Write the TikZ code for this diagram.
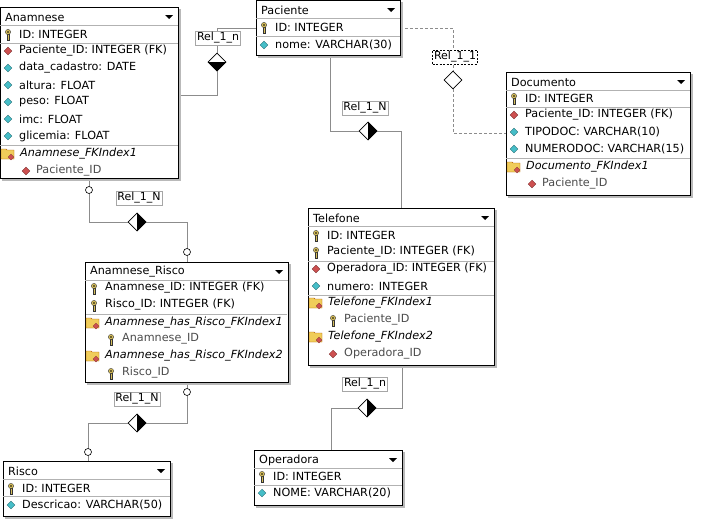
\documentclass[tikz,border=0pt]{standalone}
\usepackage{fontspec}
\setmainfont{DejaVu Sans}
\usetikzlibrary{shapes.geometric}
\definecolor{keyc}{RGB}{214,190,90}
\definecolor{fkc}{RGB}{205,80,80}
\definecolor{atc}{RGB}{70,190,200}
\definecolor{fold}{RGB}{240,205,90}
\definecolor{linec}{RGB}{140,140,140}
\tikzset{
  tbl/.style={draw=black,fill=white,anchor=north west,inner sep=0pt},
  shadow/.style={fill=gray!55},
  txt/.style={anchor=west,inner sep=0pt,font=\fontsize{11.2}{13}\selectfont},
  gtxt/.style={txt,text=gray!60!black},
  itxt/.style={txt,font=\fontsize{11.2}{13}\selectfont\itshape},
  conn/.style={draw=linec,line width=0.8pt},
  dconn/.style={draw=linec,line width=0.8pt,dash pattern=on 3pt off 2pt},
  lab/.style={draw=gray!70,fill=white,inner sep=1.5pt,font=\fontsize{11}{13}\selectfont},
  dlab/.style={draw=black,dash pattern=on 2pt off 1.5pt,fill=white,inner sep=1.5pt,font=\fontsize{11}{13}\selectfont},
  rel/.style={diamond,draw=black,fill=white,minimum width=18pt,minimum height=18pt,inner sep=0pt,line width=0.8pt},
  circ/.style={circle,draw=black,fill=white,minimum size=7pt,inner sep=0pt,line width=0.6pt},
}
\newcommand{\mytable}[7][]{%
  \fill[shadow] (#3+2,#4+2) rectangle (#3+#5+3,#4+#6+3);
  \node[tbl,minimum width=#5pt,minimum height=#6pt,#1] (#2) at (#3,#4) {};
  \node[txt] at (#3+5,#4+10) {#7};
  \fill (#3+#5-13,#4+8) -- (#3+#5-5,#4+8) -- (#3+#5-9,#4+12) -- cycle;
  \draw[gray!60] (#3,#4+18.5) -- (#3+#5,#4+18.5);
}
\newcommand{\mysep}[3]{\draw[gray!60] (#1,#3) -- (#2,#3);}
\newcommand{\ikey}[2]{%
  \fill[keyc,draw=gray!40!black,line width=0.3pt] (#1-1.2,#2-1) rectangle (#1+1.2,#2+5);
  \filldraw[fill=keyc,draw=gray!40!black,line width=0.4pt] (#1,#2-3) circle (2.6);
  \fill[black] (#1,#2-3) circle (0.8);}
\newcommand{\ifk}[2]{\filldraw[fill=fkc,draw=fkc!60!black,line width=0.3pt] (#1-3.8,#2) -- (#1,#2-3.8) -- (#1+3.8,#2) -- (#1,#2+3.8) -- cycle;}
\newcommand{\iat}[2]{\filldraw[fill=atc,draw=atc!60!black,line width=0.3pt] (#1-3.8,#2) -- (#1,#2-3.8) -- (#1+3.8,#2) -- (#1,#2+3.8) -- cycle;}
\newcommand{\ifold}[2]{%
  \filldraw[fill=fold,draw=orange!70!black,line width=0.4pt] (#1-7,#2-5) -- (#1-2,#2-5) -- (#1-1,#2-4) -- (#1+6,#2-4) -- (#1+6,#2+5) -- (#1-7,#2+5) -- cycle;
  \filldraw[fill=fkc,draw=fkc!60!black,line width=0.3pt] (#1+0,#2+3) -- (#1+3,#2) -- (#1+6,#2+3) -- (#1+3,#2+6) -- cycle;}
\begin{document}
\begin{tikzpicture}[x=1pt,y=-1pt]
\useasboundingbox[fill=white] (0,0) rectangle (727,530);

\coordinate (pa1) at (256,28);
\node[rel] (r1) at (217,62) {};
\draw[conn] (pa1) -- (217,28) -- (r1.north);
\draw[conn] (r1.south) -- (217,95) -- (178,95);
\fill (r1.west) -- (r1.east) -- (r1.south) -- cycle;
\node[lab] (l1) at (218,38) {Rel\_1\_n};

\node[rel] (r2) at (368,131) {};
\draw[conn] (330,55) -- (330,131) -- (r2.west);
\draw[conn] (r2.east) -- (401,131) -- (401,208);
\fill (r2.north) -- (r2.east) -- (r2.south) -- cycle;
\node[lab] (l2) at (365,108) {Rel\_1\_N};

\node[rel] (r3) at (453,80) {};
\draw[dconn] (400,28) -- (453,28) -- (r3.north);
\draw[dconn] (r3.south) -- (453,133) -- (506,133);
\node[dlab] (l3) at (455,57) {Rel\_1\_1};

\node[rel] (r4) at (137,222) {};
\draw[conn] (89,178) -- (89,222) -- (r4.west);
\draw[conn] (r4.east) -- (187,222) -- (187,262);
\fill (r4.north) -- (r4.east) -- (r4.south) -- cycle;
\node[circ] at (89,190) {};
\node[circ] at (187,252) {};
\node[lab] (l4) at (139,198) {Rel\_1\_N};

\node[rel] (r5) at (137,423) {};
\draw[conn] (187,382) -- (187,423) -- (r5.east);
\draw[conn] (r5.west) -- (88,423) -- (88,461);
\fill (r5.north) -- (r5.east) -- (r5.south) -- cycle;
\node[circ] at (187,392) {};
\node[circ] at (88,452) {};
\node[lab] (l5) at (137,399) {Rel\_1\_N};

\node[rel] (r6) at (367,408) {};
\draw[conn] (402,365) -- (402,408) -- (r6.east);
\draw[conn] (r6.west) -- (331,408) -- (331,450);
\fill (r6.north) -- (r6.east) -- (r6.south) -- cycle;
\node[lab] (l6) at (365,384) {Rel\_1\_n};

\mytable{anam}{0}{7}{178}{171}{Anamnese}
\ikey{8}{35}\node[txt] at (19,34) {ID: INTEGER};
\mysep{0}{178}{43}
\ifk{8}{51}\node[txt] at (19,51) {Paciente\_ID: INTEGER (FK)};
\iat{8}{68}\node[txt] at (19,68) {data\_cadastro: DATE};
\iat{8}{85}\node[txt] at (19,85) {altura: FLOAT};
\iat{8}{102}\node[txt] at (19,102) {peso: FLOAT};
\iat{8}{119}\node[txt] at (19,119) {imc: FLOAT};
\iat{8}{136}\node[txt] at (19,136) {glicemia: FLOAT};
\mysep{0}{178}{145}
\ifold{8}{154}\node[itxt] at (20,154) {Anamnese\_FKIndex1};
\ifk{26}{171}\node[gtxt] at (36,171) {Paciente\_ID};

\mytable{pac}{256}{0}{144}{55}{Paciente}
\ikey{264}{28}\node[txt] at (275,27) {ID: INTEGER};
\mysep{256}{400}{36}
\iat{264}{45}\node[txt] at (275,45) {nome: VARCHAR(30)};

\mytable{doc}{506}{72}{184}{123}{Documento}
\ikey{514}{99}\node[txt] at (525,98) {ID: INTEGER};
\mysep{506}{690}{107}
\ifk{514}{115}\node[txt] at (525,115) {Paciente\_ID: INTEGER (FK)};
\iat{514}{132}\node[txt] at (525,132) {TIPODOC: VARCHAR(10)};
\iat{514}{149}\node[txt] at (525,149) {NUMERODOC: VARCHAR(15)};
\mysep{506}{690}{158}
\ifold{514}{167}\node[itxt] at (526,167) {Documento\_FKIndex1};
\ifk{532}{184}\node[gtxt] at (542,184) {Paciente\_ID};

\mytable{tel}{308}{208}{186}{157}{Telefone}
\ikey{316}{236}\node[txt] at (327,235) {ID: INTEGER};
\ikey{316}{253}\node[txt] at (327,252) {Paciente\_ID: INTEGER (FK)};
\mysep{308}{494}{261}
\ifk{316}{269}\node[txt] at (327,269) {Operadora\_ID: INTEGER (FK)};
\iat{316}{286}\node[txt] at (327,286) {numero: INTEGER};
\mysep{308}{494}{295}
\ifold{316}{303}\node[itxt] at (328,303) {Telefone\_FKIndex1};
\ikey{333}{321}\node[gtxt] at (344,320) {Paciente\_ID};
\ifold{316}{337}\node[itxt] at (328,337) {Telefone\_FKIndex2};
\ifk{333}{354}\node[gtxt] at (344,354) {Operadora\_ID};

\mytable[line width=1.4pt]{ar}{85}{262}{203}{120}{Anamnese\_Risco}
\ikey{94}{289}\node[txt] at (105,288) {Anamnese\_ID: INTEGER (FK)};
\ikey{94}{306}\node[txt] at (105,305) {Risco\_ID: INTEGER (FK)};
\mysep{86}{287}{314}
\ifold{93}{323}\node[itxt] at (105,323) {Anamnese\_has\_Risco\_FKIndex1};
\ikey{111}{340}\node[gtxt] at (122,339) {Anamnese\_ID};
\ifold{93}{356}\node[itxt] at (105,356) {Anamnese\_has\_Risco\_FKIndex2};
\ikey{111}{374}\node[gtxt] at (122,373) {Risco\_ID};

\mytable{ris}{3}{461}{167}{55}{Risco}
\ikey{11}{489}\node[txt] at (22,488) {ID: INTEGER};
\mysep{3}{170}{496}
\iat{11}{505}\node[txt] at (22,505) {Descricao: VARCHAR(50)};

\mytable{ope}{254}{450}{148}{55}{Operadora}
\ikey{262}{477}\node[txt] at (273,476) {ID: INTEGER};
\mysep{254}{402}{485}
\iat{262}{493}\node[txt] at (273,493) {NOME: VARCHAR(20)};
\end{tikzpicture}
\end{document}
